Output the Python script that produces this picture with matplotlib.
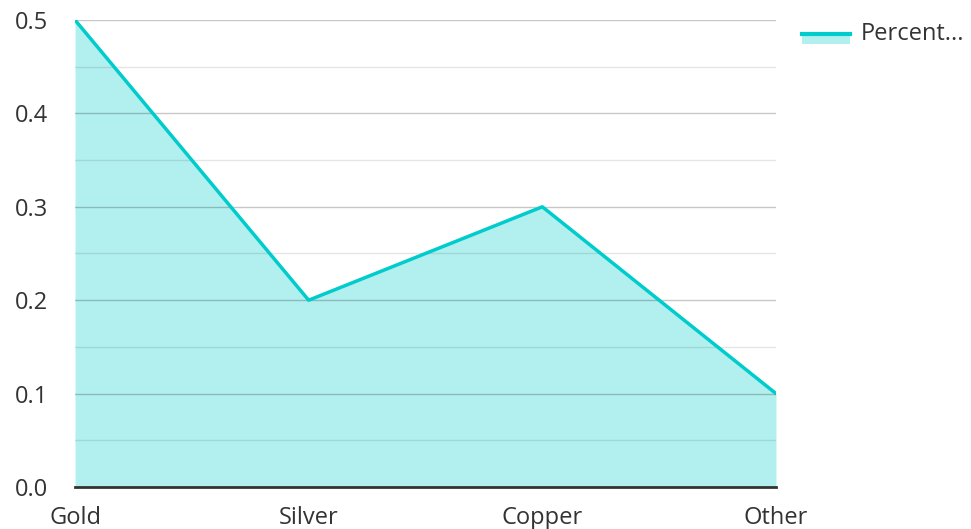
import numpy as np
import matplotlib.pyplot as plt

plt.rcParams['font.family'] = ['Open Sans', 'DejaVu Sans']

# 数据
categories = ["Gold", "Silver", "Copper", "Other"]
percent = [0.5, 0.2, 0.3, 0.1]
series_name = "Percent..."

line_color = '#00cccc'

fig = plt.figure(figsize=(9.71, 5.29), dpi=100)
ax = fig.add_axes([75 / 971, 42 / 529, 701 / 971, 467 / 529])

x = np.arange(len(categories))
ax.fill_between(x, 0, percent, color=line_color, alpha=0.3, linewidth=0, zorder=1)
ax.plot(x, percent, color=line_color, linewidth=2.5, zorder=3, solid_capstyle='round')

# 网格线
for v in np.arange(0.05, 0.5, 0.1):
    ax.axhline(v, color='#000000', alpha=0.1, linewidth=1, zorder=2)
for v in np.arange(0.1, 0.55, 0.1):
    ax.axhline(v, color='#000000', alpha=0.22, linewidth=1, zorder=2)

ax.set_xlim(0, len(categories) - 1)
ax.set_ylim(0, 0.5)
ax.set_xticks(x)
ax.set_xticklabels(categories)
ax.set_yticks(np.arange(0, 0.51, 0.1))
ax.set_yticklabels(['%.1f' % v for v in np.arange(0, 0.51, 0.1)])
ax.tick_params(length=0, labelsize=17, labelcolor='#333333')
ax.tick_params(axis='x', pad=13.5)
ax.tick_params(axis='y', pad=43)
for lbl in ax.get_yticklabels():
    lbl.set_horizontalalignment('left')

for s in ['top', 'right', 'left']:
    ax.spines[s].set_visible(False)
ax.spines['bottom'].set_color('#333333')
ax.spines['bottom'].set_linewidth(2)
ax.spines['bottom'].set_zorder(4)

# 图例
fig.patches.append(plt.Rectangle((802 / 971, 1 - 44 / 529), 48 / 971, 10 / 529,
                                 transform=fig.transFigure, color=line_color, alpha=0.3, lw=0))
fig.lines.append(plt.Line2D([802 / 971, 850 / 971], [1 - 34 / 529, 1 - 34 / 529],
                            transform=fig.transFigure, color=line_color, linewidth=3))
fig.text(861 / 971, 1 - 34 / 529, series_name, fontsize=17, color='#333333',
         va='center', ha='left')

plt.savefig('out.png', dpi=100)
